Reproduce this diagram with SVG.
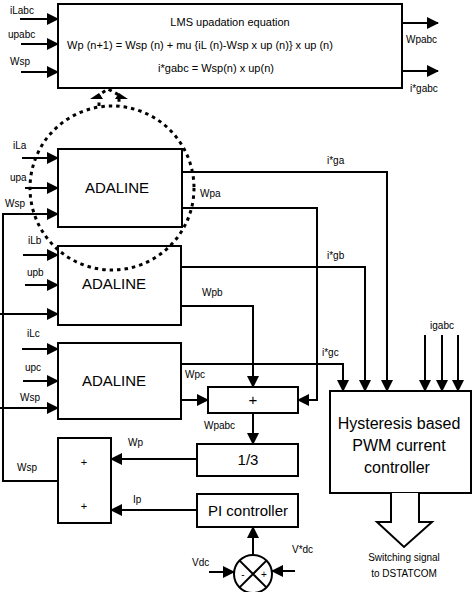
<svg xmlns="http://www.w3.org/2000/svg" width="474" height="592" viewBox="0 0 474 592">
<defs>
<marker id="ah" markerUnits="userSpaceOnUse" markerWidth="12" markerHeight="12" refX="11" refY="6" orient="auto">
<path d="M0,0 L12,6 L0,12 z" fill="#000"/>
</marker>
<style>
.box{fill:#fff;stroke:#000;stroke-width:2}
.ln{fill:none;stroke:#000;stroke-width:2}
.ar{fill:none;stroke:#000;stroke-width:2;marker-end:url(#ah)}
.dot{fill:none;stroke:#000;stroke-width:3;stroke-dasharray:3.5 4}
text{font-family:"Liberation Sans",Arial,sans-serif;fill:#000}
.s{font-size:10px}
.m{font-size:11px}
.b{font-size:15px}
.h{font-size:16px}
</style>
</defs>
<rect width="474" height="592" fill="#fff"/>

<g id="lms">
<rect class="box" x="58" y="4" width="344" height="84"/>
<text class="m" x="230" y="26" text-anchor="middle">LMS upadation equation</text>
<text class="m" x="200" y="49" text-anchor="middle">Wp (n+1) = Wsp (n) + mu {iL (n)-Wsp x up (n)} x up (n)</text>
<text class="m" x="216" y="72" text-anchor="middle">i*gabc = Wsp(n) x up(n)</text>
</g>

<g id="adaline-a">
<rect class="box" x="58" y="149" width="124" height="78"/>
<text class="b" x="117" y="193" text-anchor="middle">ADALINE</text>
</g>
<g id="adaline-b">
<rect class="box" x="58" y="246" width="123" height="79"/>
<text class="b" x="114" y="289" text-anchor="middle">ADALINE</text>
</g>
<g id="adaline-c">
<rect class="box" x="58" y="343" width="123" height="76"/>
<text class="b" x="114" y="386" text-anchor="middle">ADALINE</text>
</g>
<g id="sum3">
<rect class="box" x="208" y="387" width="90" height="26"/>
<text class="b" x="253" y="405" text-anchor="middle">+</text>
</g>
<g id="third">
<rect class="box" x="197" y="444" width="101" height="32"/>
<text class="b" x="248" y="465" text-anchor="middle">1/3</text>
</g>
<g id="pi">
<rect class="box" x="197" y="494" width="101" height="33"/>
<text class="b" x="248" y="516" text-anchor="middle">PI controller</text>
</g>
<g id="sum2">
<rect class="box" x="58" y="438" width="53" height="85"/>
<text class="m" x="84" y="466" text-anchor="middle">+</text>
<text class="m" x="84" y="510" text-anchor="middle">+</text>
</g>
<g id="comparator">
<circle class="box" cx="253" cy="574" r="19"/>
<path class="ln" d="M239.6,560.6 L266.4,587.4 M266.4,560.6 L239.6,587.4"/>
<text class="s" x="243" y="578" text-anchor="middle">-</text>
<text class="s" x="264" y="578" text-anchor="middle">+</text>
</g>
<g id="hysteresis">
<rect class="box" x="330" y="391" width="141" height="102"/>
<text class="h" x="399" y="429" text-anchor="middle">Hysteresis based</text>
<text class="h" x="399" y="451" text-anchor="middle">PWM current</text>
<text class="h" x="397" y="473" text-anchor="middle">controller</text>
</g>
<g id="output-arrow">
<path class="box" d="M391,493 L391,522 L377,522 L404,547 L432,522 L419,522 L419,493"/>
<text class="s" x="404" y="561" text-anchor="middle">Switching signal</text>
<text class="s" x="404" y="577" text-anchor="middle">to DSTATCOM</text>
</g>

<g id="connectors">
<line class="ar" x1="20" y1="19" x2="58" y2="19"/>
<line class="ar" x1="21" y1="44" x2="58" y2="44"/>
<line class="ar" x1="21" y1="72" x2="58" y2="72"/>
<line class="ar" x1="402" y1="23" x2="438" y2="23"/>
<line class="ar" x1="402" y1="71" x2="438" y2="71"/>

<line class="ar" x1="22" y1="158" x2="58" y2="158"/>
<line class="ar" x1="25" y1="188" x2="58" y2="188"/>
<polyline class="ar" points="58,481 3,481 3,214 58,214"/>
<line class="ar" x1="23" y1="255" x2="58" y2="255"/>
<line class="ar" x1="25" y1="285" x2="58" y2="285"/>
<line class="ar" x1="0" y1="314" x2="58" y2="314"/>
<line class="ar" x1="22" y1="349" x2="58" y2="349"/>
<line class="ar" x1="23" y1="381" x2="58" y2="381"/>
<line class="ar" x1="0" y1="408" x2="58" y2="408"/>

<polyline class="ar" points="182,172 387,172 387,391"/>
<polyline class="ar" points="182,208 317,208 317,400 298,400"/>
<polyline class="ar" points="181,267 365,267 365,391"/>
<polyline class="ar" points="181,306 253,306 253,387"/>
<polyline class="ar" points="181,364 343,364 343,391"/>
<line class="ar" x1="181" y1="400" x2="208" y2="400"/>
<line class="ar" x1="253" y1="413" x2="253" y2="444"/>
<line class="ar" x1="197" y1="459" x2="111" y2="459"/>
<line class="ar" x1="197" y1="510" x2="111" y2="510"/>
<line class="ar" x1="253" y1="555" x2="253" y2="527"/>
<line class="ar" x1="209" y1="572" x2="234" y2="572"/>
<line class="ar" x1="295" y1="571" x2="272" y2="571"/>
<line class="ar" x1="425" y1="335" x2="425" y2="391"/>
<line class="ar" x1="442" y1="335" x2="442" y2="391"/>
<line class="ar" x1="458" y1="335" x2="458" y2="391"/>

<circle class="dot" cx="112" cy="188" r="82"/>
<path class="dot" d="M99,106 L99,95 L108,89 L119,95 L119,106" stroke-width="2.5"/>
<path d="M90,99 L99,93 L103,99 z M115,99 L119,93 L128,99 z" fill="#000"/>
</g>

<g id="labels" class="s">
<text x="10" y="14">iLabc</text>
<text x="8" y="38">upabc</text>
<text x="10" y="65">Wsp</text>
<text x="406" y="43">Wpabc</text>
<text x="410" y="92">i*gabc</text>
<text x="13" y="149">iLa</text>
<text x="10" y="181">upa</text>
<text x="5" y="207">Wsp</text>
<text x="200" y="197">Wpa</text>
<text x="327" y="164">i*ga</text>
<text x="28" y="244">iLb</text>
<text x="27" y="276">upb</text>
<text x="202" y="296">Wpb</text>
<text x="327" y="259">i*gb</text>
<text x="27" y="337">iLc</text>
<text x="25" y="371">upc</text>
<text x="20" y="401">Wsp</text>
<text x="185" y="378">Wpc</text>
<text x="322" y="356">i*gc</text>
<text x="204" y="429">Wpabc</text>
<text x="17" y="471">Wsp</text>
<text x="128" y="446">Wp</text>
<text x="133" y="503">Ip</text>
<text x="192" y="566">Vdc</text>
<text x="292" y="553">V*dc</text>
<text x="442" y="329" text-anchor="middle">igabc</text>
</g>
</svg>
